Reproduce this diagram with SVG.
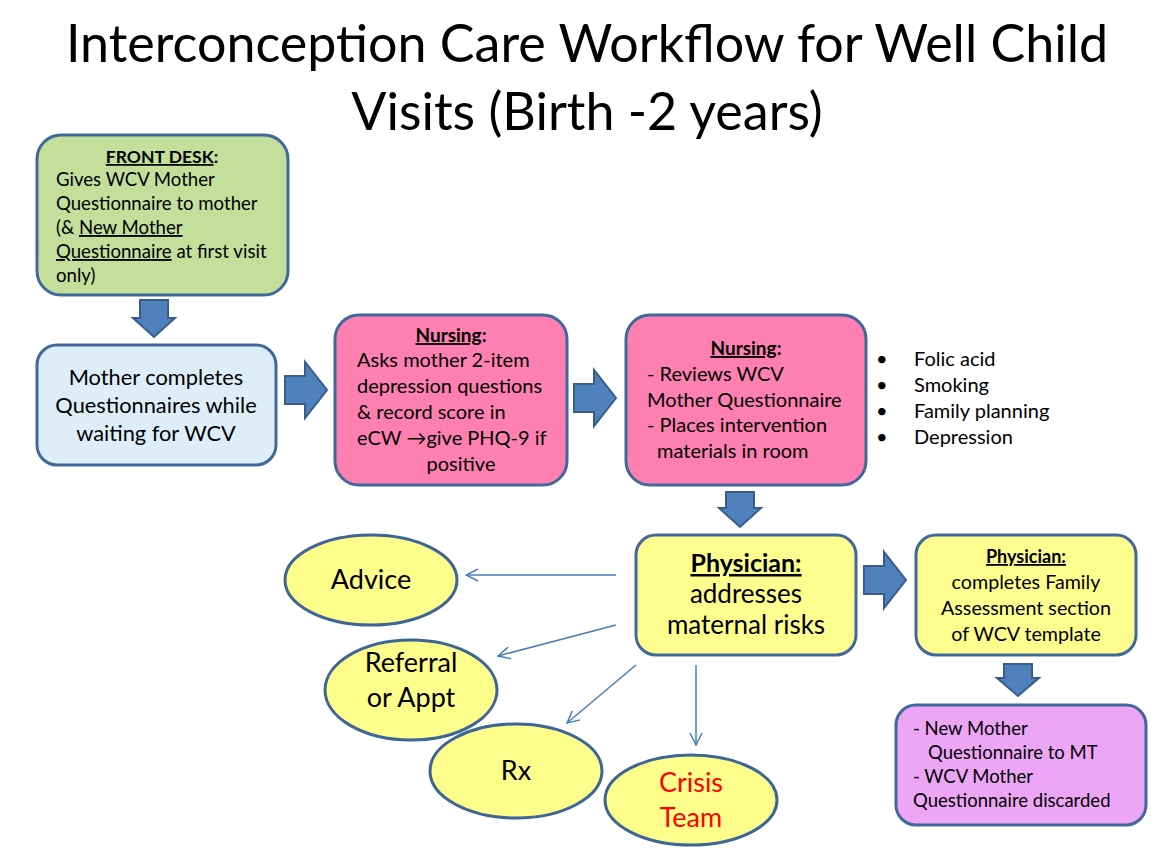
<svg xmlns="http://www.w3.org/2000/svg" width="1176" height="853" viewBox="0 0 1176 853">
<style>
text{font-family:Lato,"Open Sans","DejaVu Sans",sans-serif;fill:#000}
.box{stroke:#41689b;stroke-width:3}
.blk{fill:#4f81bd;stroke:#385d8a;stroke-width:2}
.ell{fill:#fdfd8c;stroke:#3d6596;stroke-width:3}
.con{stroke:#4a7ebb;stroke-width:1.5;fill:none}
.u{text-decoration:underline}
.b{font-weight:bold}
</style>
<defs>
<marker id="open" markerWidth="14" markerHeight="14" refX="13" refY="7" orient="auto" markerUnits="userSpaceOnUse">
<path d="M1,1 L13,7 L1,13" fill="none" stroke="#4a7ebb" stroke-width="1.5"/>
</marker>
</defs>
<rect width="1176" height="853" fill="#fff"/>
<g id="title">
<text x="587" y="62" font-size="52" text-anchor="middle">Interconception Care Workflow for Well Child</text>
<text x="587" y="130" font-size="52" text-anchor="middle">Visits (Birth -2 years)</text>
</g>
<g id="front-desk">
<rect class="box" x="37" y="135" width="251" height="160" rx="24" fill="#c4df9b"/>
<text x="162" y="163" font-size="17.5" text-anchor="middle"><tspan class="b u">FRONT DESK</tspan><tspan class="b">:</tspan></text>
<text x="56" y="186" font-size="18.6">Gives WCV Mother</text>
<text x="56" y="210" font-size="18.6">Questionnaire to mother</text>
<text x="56" y="234" font-size="18.6">(&amp; <tspan class="u">New Mother</tspan></text>
<text x="56" y="258" font-size="18.6"><tspan class="u">Questionnaire</tspan> at first visit</text>
<text x="56" y="282" font-size="18.6">only)</text>
</g>
<g id="mother-completes">
<rect class="box" x="37" y="345" width="239" height="120" rx="20" fill="#ddeef8"/>
<text x="156" y="385" font-size="21.8" text-anchor="middle">Mother completes</text>
<text x="156" y="413" font-size="21.8" text-anchor="middle">Questionnaires while</text>
<text x="156" y="441" font-size="21.8" text-anchor="middle">waiting for WCV</text>
</g>
<g id="nursing-1">
<rect class="box" x="335" y="315" width="232" height="170" rx="24" fill="#fe80b0"/>
<text x="451" y="342" font-size="19" text-anchor="middle"><tspan class="b u">Nursing</tspan><tspan class="b">:</tspan></text>
<text x="357" y="367" font-size="20">Asks mother 2-item</text>
<text x="357" y="393" font-size="20">depression questions</text>
<text x="357" y="419" font-size="20">&amp; record score in</text>
<text x="357" y="445" font-size="20">eCW →give PHQ-9 if</text>
<text x="461" y="471" font-size="20" text-anchor="middle">positive</text>
</g>
<g id="nursing-2">
<rect class="box" x="626" y="315" width="240" height="170" rx="24" fill="#fe80b0"/>
<text x="746" y="355" font-size="19" text-anchor="middle"><tspan class="b u">Nursing</tspan><tspan class="b">:</tspan></text>
<text x="647" y="381" font-size="20">- Reviews WCV</text>
<text x="647" y="407" font-size="20">Mother Questionnaire</text>
<text x="647" y="432" font-size="20">- Places intervention</text>
<text x="657" y="458" font-size="20">materials in room</text>
</g>
<g id="risk-list">
<text x="876" y="366" font-size="20">•</text>
<text x="914" y="366" font-size="20">Folic acid</text>
<text x="876" y="392" font-size="20">•</text>
<text x="914" y="392" font-size="20">Smoking</text>
<text x="876" y="418" font-size="20">•</text>
<text x="914" y="418" font-size="20">Family planning</text>
<text x="876" y="444" font-size="20">•</text>
<text x="914" y="444" font-size="20">Depression</text>
</g>
<g id="physician-1">
<rect class="box" x="636" y="535" width="220" height="120" rx="20" fill="#fefe8e"/>
<text x="746" y="572" font-size="25" text-anchor="middle" class="b u">Physician:</text>
<text x="746" y="603" font-size="26" text-anchor="middle">addresses</text>
<text x="746" y="634" font-size="26" text-anchor="middle">maternal risks</text>
</g>
<g id="physician-2">
<rect class="box" x="916" y="535" width="220" height="120" rx="20" fill="#fefe8e"/>
<text x="1026" y="563" font-size="18" text-anchor="middle" class="b u">Physician:</text>
<text x="1026" y="589" font-size="19.7" text-anchor="middle">completes Family</text>
<text x="1026" y="615" font-size="19.7" text-anchor="middle">Assessment section</text>
<text x="1026" y="641" font-size="19.7" text-anchor="middle">of WCV template</text>
</g>
<g id="questionnaire-disposal">
<rect class="box" x="896" y="705" width="250" height="120" rx="20" fill="#eda6f6"/>
<text x="913" y="735" font-size="18.5">- New Mother</text>
<text x="928" y="759" font-size="18.5">Questionnaire to MT</text>
<text x="913" y="783" font-size="18.5">- WCV Mother</text>
<text x="913" y="807" font-size="18.5">Questionnaire discarded</text>
</g>
<g id="advice">
<ellipse class="ell" cx="371" cy="580" rx="86" ry="45"/>
<text x="371" y="589" font-size="27" text-anchor="middle">Advice</text>
</g>
<g id="referral">
<ellipse class="ell" cx="411" cy="690" rx="86" ry="50"/>
<text x="411" y="672" font-size="27" text-anchor="middle">Referral</text>
<text x="411" y="707" font-size="27" text-anchor="middle">or Appt</text>
</g>
<g id="rx">
<ellipse class="ell" cx="516" cy="771" rx="86" ry="47"/>
<text x="516" y="780" font-size="27" text-anchor="middle">Rx</text>
</g>
<g id="crisis-team">
<ellipse class="ell" cx="691" cy="800" rx="86" ry="45"/>
<text x="691" y="792" font-size="27" text-anchor="middle" style="fill:#ff0000">Crisis</text>
<text x="691" y="827" font-size="27" text-anchor="middle" style="fill:#ff0000">Team</text>
</g>
<g id="connectors">
<path class="blk" d="M140,300 H168 V318 H175 L154,337 L133,318 H140 Z"/>
<path class="blk" d="M285,376 H305 V362 L327,390 L305,418 V404 H285 Z"/>
<path class="blk" d="M574,384 H594 V370 L616,398 L594,426 V412 H574 Z"/>
<path class="blk" d="M726,492 H754 V508 H761 L740,527 L719,508 H726 Z"/>
<path class="blk" d="M864,566 H884 V552 L906,580 L884,608 V594 H864 Z"/>
<path class="blk" d="M1004,664 H1032 V678 H1039 L1018,696 L997,678 H1004 Z"/>
<line class="con" x1="616" y1="575" x2="466" y2="575" marker-end="url(#open)"/>
<line class="con" x1="616" y1="625" x2="498" y2="656" marker-end="url(#open)"/>
<line class="con" x1="636" y1="665" x2="567" y2="723" marker-end="url(#open)"/>
<line class="con" x1="696" y1="665" x2="696" y2="745" marker-end="url(#open)"/>
</g>
</svg>
